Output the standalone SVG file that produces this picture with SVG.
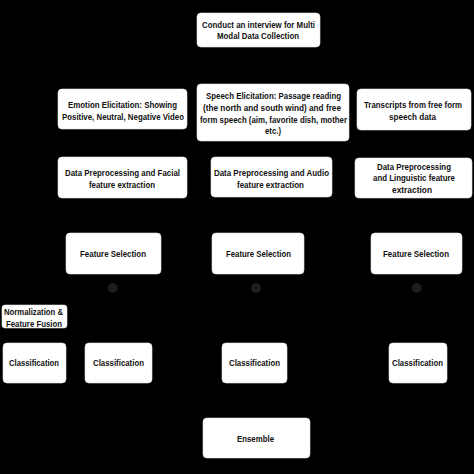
<svg xmlns="http://www.w3.org/2000/svg" width="474" height="474" viewBox="0 0 474 474">
<style>
.b{fill:#fff;stroke:#e6e6e6;stroke-width:0.6}
text{font-family:"Liberation Sans",Arial,sans-serif;font-weight:bold;font-size:9.5px;fill:#111}
.d{fill:#1d1d1d}
</style>
<rect x="0" y="0" width="474" height="474" fill="#000"/>
<g id="connectors">
<circle class="d" cx="113" cy="288" r="5"/>
<circle class="d" cx="256" cy="288" r="5"/>
<circle class="d" cx="417" cy="288" r="5"/>
</g>
<g id="interview">
<rect class="b" x="197" y="13" width="123" height="34" rx="4"/>
<text x="202" y="28" textLength="113" lengthAdjust="spacingAndGlyphs">Conduct an interview for Multi</text>
<text x="217" y="39" textLength="82" lengthAdjust="spacingAndGlyphs">Modal Data Collection</text>
</g>
<g id="emotion">
<rect class="b" x="58" y="89" width="129" height="40" rx="4"/>
<text x="68" y="107.5" textLength="109" lengthAdjust="spacingAndGlyphs">Emotion Elicitation: Showing</text>
<text x="62" y="119.5" textLength="122" lengthAdjust="spacingAndGlyphs">Positive, Neutral, Negative Video</text>
</g>
<g id="speech">
<rect class="b" x="197" y="84" width="152" height="57" rx="4"/>
<text x="206" y="99" textLength="135" lengthAdjust="spacingAndGlyphs">Speech Elicitation: Passage reading</text>
<text x="203" y="111" textLength="138" lengthAdjust="spacingAndGlyphs">(the north and south wind) and free</text>
<text x="200" y="122.5" textLength="147" lengthAdjust="spacingAndGlyphs">form speech (aim, favorite dish, mother</text>
<text x="265" y="134" textLength="16" lengthAdjust="spacingAndGlyphs">etc.)</text>
</g>
<g id="transcripts">
<rect class="b" x="357" y="89" width="114" height="41" rx="4"/>
<text x="413" y="107.5" text-anchor="middle" style="font-size:8.6px" textLength="98" lengthAdjust="spacingAndGlyphs">Transcripts from free form</text>
<text x="389" y="119.5" textLength="47" lengthAdjust="spacingAndGlyphs">speech data</text>
</g>
<g id="facial">
<rect class="b" x="58" y="157" width="129" height="41" rx="4"/>
<text x="65" y="176" textLength="115" lengthAdjust="spacingAndGlyphs">Data Preprocessing and Facial</text>
<text x="89" y="187.5" textLength="66" lengthAdjust="spacingAndGlyphs">feature extraction</text>
</g>
<g id="audio">
<rect class="b" x="211" y="157" width="121" height="40" rx="4"/>
<text x="214" y="176" textLength="115" lengthAdjust="spacingAndGlyphs">Data Preprocessing and Audio</text>
<text x="237" y="187.5" textLength="67" lengthAdjust="spacingAndGlyphs">feature extraction</text>
</g>
<g id="linguistic">
<rect class="b" x="355" y="158" width="117" height="40" rx="4"/>
<text x="377" y="169.5" textLength="74" lengthAdjust="spacingAndGlyphs">Data Preprocessing</text>
<text x="373" y="181" textLength="82" lengthAdjust="spacingAndGlyphs">and Linguistic feature</text>
<text x="392" y="192.5" textLength="40" lengthAdjust="spacingAndGlyphs">extraction</text>
</g>
<g id="fs1">
<rect class="b" x="66" y="233" width="95" height="41" rx="4"/>
<text x="80" y="256.5" textLength="66" lengthAdjust="spacingAndGlyphs">Feature Selection</text>
</g>
<g id="fs2">
<rect class="b" x="212" y="233" width="92" height="41" rx="4"/>
<text x="226" y="256.5" textLength="65" lengthAdjust="spacingAndGlyphs">Feature Selection</text>
</g>
<g id="fs3">
<rect class="b" x="371" y="233" width="91" height="41" rx="4"/>
<text x="383" y="256.5" textLength="66" lengthAdjust="spacingAndGlyphs">Feature Selection</text>
</g>
<g id="fusion">
<rect class="b" x="2" y="305" width="65" height="23" rx="3"/>
<text x="4" y="315" textLength="59" lengthAdjust="spacingAndGlyphs">Normalization &amp;</text>
<text x="6" y="326.5" textLength="56" lengthAdjust="spacingAndGlyphs">Feature Fusion</text>
</g>
<g id="class1">
<rect class="b" x="3" y="343" width="63" height="40" rx="4"/>
<text x="9" y="366" textLength="50" lengthAdjust="spacingAndGlyphs">Classification</text>
</g>
<g id="class2">
<rect class="b" x="85" y="343" width="67" height="40" rx="4"/>
<text x="93" y="366" textLength="51" lengthAdjust="spacingAndGlyphs">Classification</text>
</g>
<g id="class3">
<rect class="b" x="222" y="343" width="65" height="40" rx="4"/>
<text x="229" y="366" textLength="51" lengthAdjust="spacingAndGlyphs">Classification</text>
</g>
<g id="class4">
<rect class="b" x="389" y="343" width="58" height="40" rx="4"/>
<text x="392" y="366" textLength="51" lengthAdjust="spacingAndGlyphs">Classification</text>
</g>
<g id="ensemble">
<rect class="b" x="203" y="418" width="107" height="40" rx="4"/>
<text x="237" y="441.5" textLength="37" lengthAdjust="spacingAndGlyphs">Ensemble</text>
</g>
</svg>
